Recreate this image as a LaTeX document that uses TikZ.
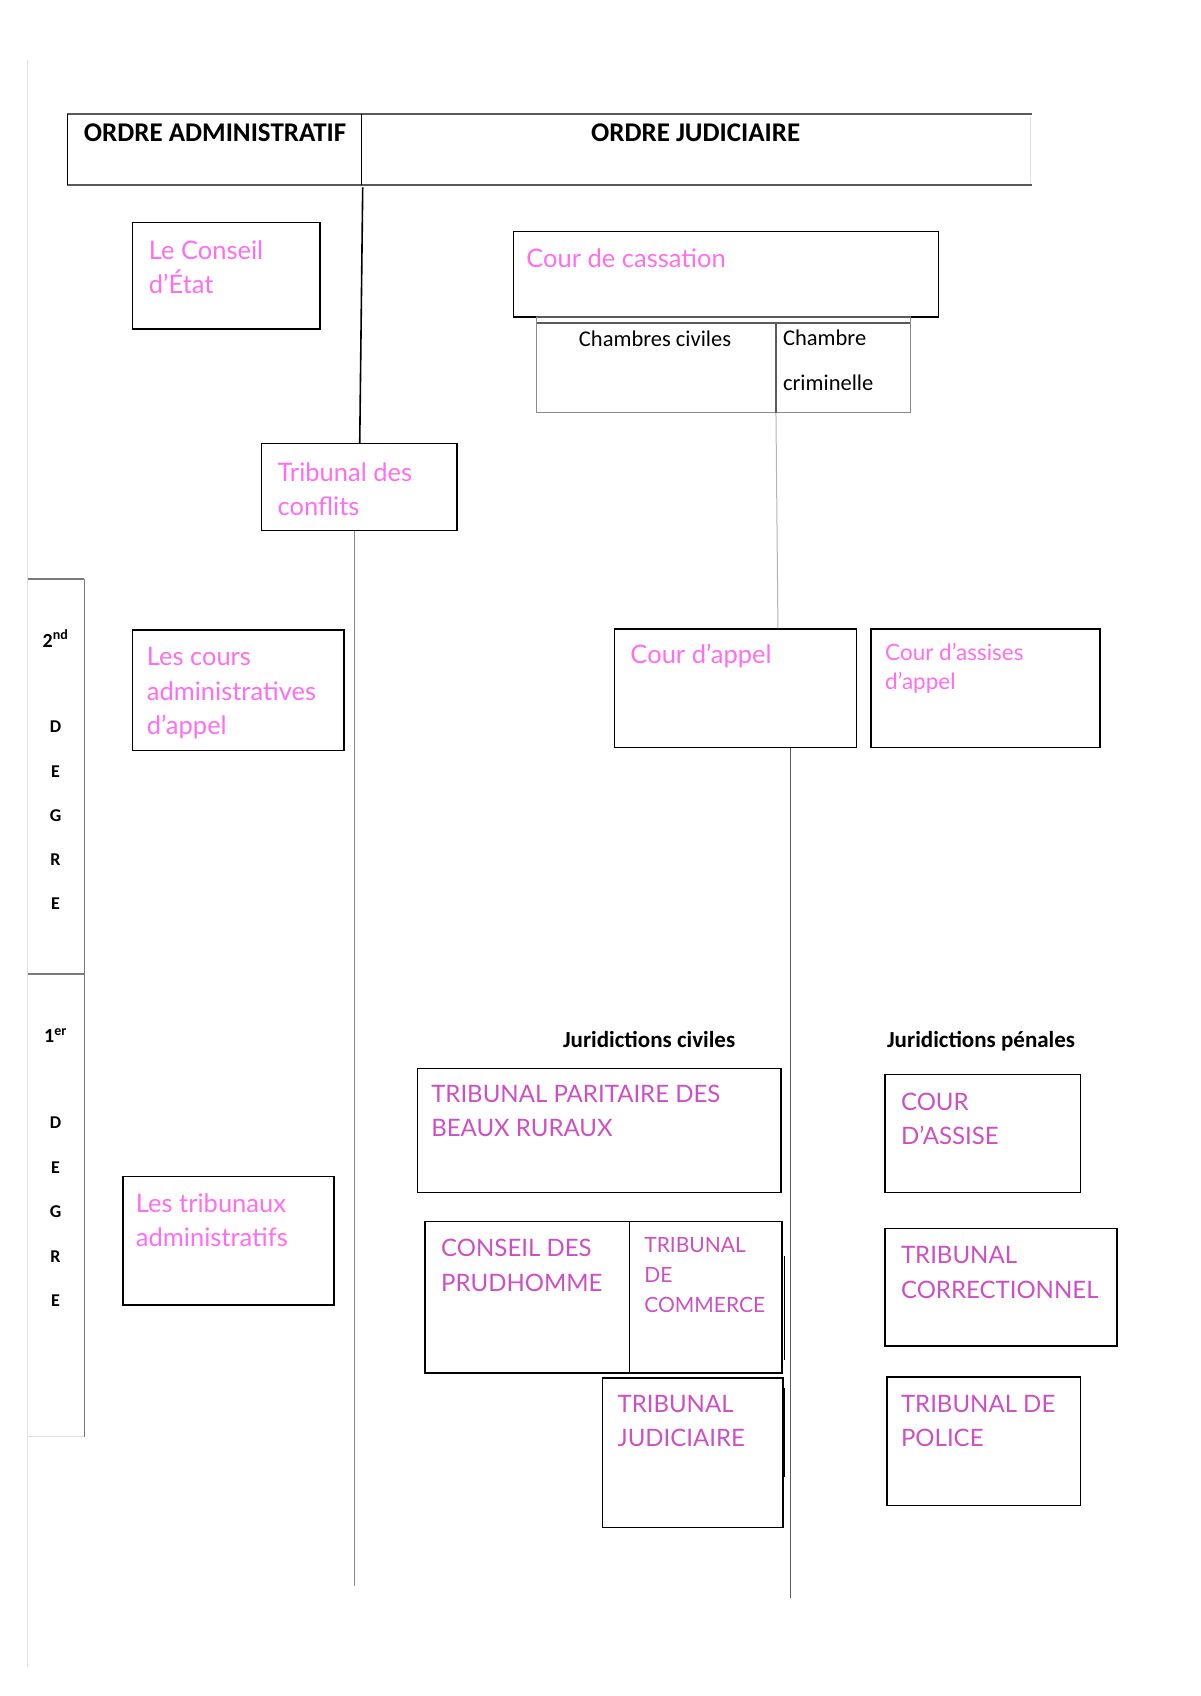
\documentclass[tikz,border=0pt]{standalone}
\usepackage{fontspec}
\usetikzlibrary{fit}
\setmainfont{Carlito}
\newfontfamily\lato{Lato}
\definecolor{pinkA}{RGB}{255,110,238}
\definecolor{pinkB}{RGB}{205,80,195}
\definecolor{rule}{RGB}{90,90,90}
\definecolor{faint}{RGB}{225,225,225}
\tikzset{
  box/.style={draw=black, line width=1.3pt, inner sep=0pt, rectangle},
  ptxt/.style={anchor=base west, inner sep=0pt, align=left, text=pinkA, font=\lato\fontsize{25.5}{34.5}\selectfont},
  ptxtsmall/.style={ptxt, font=\lato\fontsize{22.5}{29}\selectfont},
  ctxt/.style={anchor=base west, inner sep=0pt, align=left, text=pinkB, font=\lato\fontsize{24}{34.5}\selectfont},
  ctxtsmall/.style={ctxt, font=\lato\fontsize{21}{30}\selectfont},
  btitle/.style={anchor=base, inner sep=0pt, font=\bfseries\fontsize{27}{30}\selectfont},
  bsub/.style={anchor=base, inner sep=0pt, font=\bfseries\fontsize{23}{26}\selectfont},
  deg/.style={anchor=base, inner sep=0pt, font=\bfseries\fontsize{18}{20}\selectfont},
  cham/.style={anchor=base west, inner sep=0pt, font=\fontsize{22.5}{24}\selectfont},
}
\begin{document}
\begin{tikzpicture}[x=0.991pt,y=-0.997pt]
\useasboundingbox[fill=white] (0,0) rectangle (1210.9,1701.1);
% page edge
\draw[faint, line width=1pt] (28,60) -- (28,1672);
% header
\coordinate (hTL) at (68,114);
\coordinate (hTR) at (1041,114);
\coordinate (hBL) at (68,186);
\coordinate (hBR) at (1041,186);
\coordinate (hDivT) at (365,114);
\coordinate (hDivB) at (365,186);
\draw[faint, line width=1pt] (1040,117) -- (1040,184);
\draw[rule, line width=2pt] (hTL) -- (hTR);
\draw[rule, line width=2pt] (hBL) -- (hBR);
\draw[black, line width=1pt] (hTL) -- (hBL);
\draw[black, line width=1pt] (hDivT) -- (hDivB);
\node[btitle] (tadm) at (217,142) {ORDRE ADMINISTRATIF};
\node[btitle] (tjud) at (702,142) {ORDRE JUDICIAIRE};
% boxes
\node[box, fit={(134,223) (323,330)}] (conseil) {};
\node[ptxt] (conseilT) at (150,294.5) {Le Conseil\\d’État};
\node[box, fit={(518,232) (947,318)}] (cass) {};
\node[ptxt] (cassT) at (531,268) {Cour de cassation};
% chambres table
\coordinate (chTL) at (541,318);
\coordinate (chTR) at (919,318);
\coordinate (chBL) at (541,414);
\coordinate (chBR) at (919,414);
\coordinate (chDivT) at (783,324);
\coordinate (chDivB) at (783,414);
\draw[rule, line width=1.3pt] (chTL) -- (chTR);
\draw[rule, line width=1.3pt] (541,324) -- (919,324);
\draw[rule!70, line width=1.2pt] (chTL) -- (chBL) -- (chBR) -- (chTR);
\draw[rule, line width=1.2pt] (chDivT) -- (chDivB);
\node[cham] (civ) at (584,348) {Chambres civiles};
\node[cham] (crim) at (790,347) {Chambre};
\node[cham] (crim2) at (790,392) {criminelle};
% tribunal des conflits
\node[box, fit={(264,445) (461,532)}] (confl) {};
\node[ptxt] (conflT) at (280,517.5) {Tribunal des\\conflits};
% degree column
\draw[rule!80, line width=2pt] (28,581) -- (85,581);
\draw[rule!80, line width=2pt] (28,977) -- (85,977);
\draw[rule!80, line width=1.2pt] (85,581) -- (85,1441);
\draw[faint, line width=1pt] (28,1441) -- (85,1441);
\node[deg, font=\bfseries\fontsize{20}{22}\selectfont] (d2) at (56,649) {2\textsuperscript{nd}};
\foreach \l/\y [count=\i] in {D/735,E/780,G/824,R/868,E/912}
  \node[deg] (dA\i) at (56,\y) {\l};
\node[deg, font=\bfseries\fontsize{20}{22}\selectfont] (d1) at (56,1046) {1\textsuperscript{er}};
\foreach \l/\y [count=\i] in {D/1132,E/1177,G/1221,R/1266,E/1310}
  \node[deg] (dB\i) at (56,\y) {\l};
% 2nd degree boxes
\node[box, fit={(134,632) (347,753)}] (cadm) {};
\node[ptxt] (cadmT) at (148,737) {Les cours\\administratives\\d’appel};
\node[box, fit={(620,631) (864,750)}] (cappel) {};
\node[ptxt] (cappelT) at (636,665) {Cour d’appel};
\node[box, fit={(879,631) (1110,750)}] (cassis) {};
\node[ptxtsmall] (cassisT) at (893,692) {Cour d’assises\\d’appel};
% section labels
\node[bsub] (jciv) at (655,1051) {Juridictions civiles};
\node[bsub] (jpen) at (990,1051) {Juridictions pénales};
% 1st degree boxes
\node[box, fit={(421,1072) (788,1196)}] (tpbr) {};
\node[ctxt] (tpbrT) at (435,1140) {TRIBUNAL PARITAIRE DES\\BEAUX RURAUX};
\node[box, fit={(893,1078) (1090,1196)}] (cassise) {};
\node[ctxt] (cassiseT) at (909,1148) {COUR\\D’ASSISE};
\node[box, fit={(124,1180) (337,1309)}] (tadmin) {};
\node[ptxt] (tadminT) at (137,1250.5) {Les tribunaux\\administratifs};
\node[box, fit={(429,1225) (635,1377)}] (cph) {};
\node[ctxt] (cphT) at (445,1295) {CONSEIL DES\\PRUDHOMME};
\node[box, fit={(635,1225) (789,1377)}] (tcom) {};
\node[ctxtsmall] (tcomT) at (650,1316) {TRIBUNAL\\DE\\COMMERCE};
\node[box, fit={(608,1382) (790,1532)}] (tj) {};
\node[ctxt] (tjT) at (623,1451) {TRIBUNAL\\JUDICIAIRE};
\node[box, fit={(893,1232) (1127,1350)}] (tcorr) {};
\node[ctxt] (tcorrT) at (909,1302) {TRIBUNAL\\CORRECTIONNEL};
\node[box, fit={(895,1381) (1090,1510)}] (tpol) {};
\node[ctxt] (tpolT) at (909,1451) {TRIBUNAL DE\\POLICE};
% small side strokes
\coordinate (s1a) at (792,1260);
\coordinate (s1b) at (792,1364);
\coordinate (s2a) at (792,1392);
\coordinate (s2b) at (792,1481);
\draw[black, line width=1pt] (s1a) -- (s1b);
\draw[black, line width=1pt] (s2a) -- (s2b);
% connectors
\draw[black, line width=1.6pt] (366,188) -- (confl.north -| 363,0);
\coordinate (admEnd) at (358,1591);
\draw[rule!70, line width=1pt] (confl.south -| admEnd) -- (admEnd);
\draw[faint!80!black, line width=1pt] (chDivB) -- (cappel.north -| 785,0);
\coordinate (judEnd) at (798,1603);
\draw[rule, line width=1.3pt] (cappel.south -| judEnd) -- (judEnd);
\end{tikzpicture}
\end{document}
